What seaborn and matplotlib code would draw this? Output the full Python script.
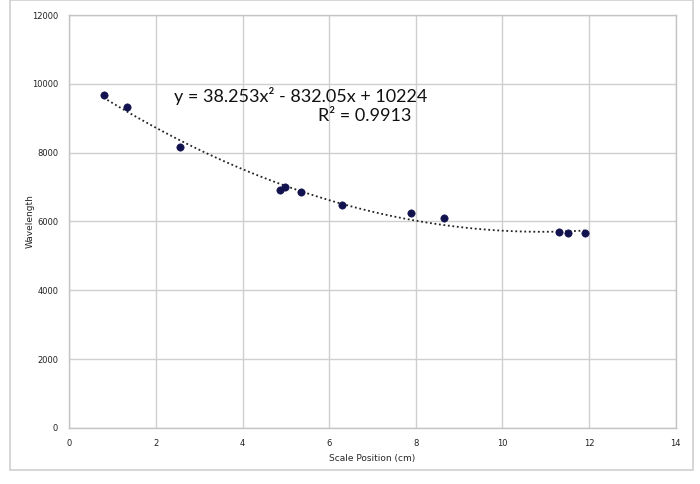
import numpy as np
import pandas as pd
import seaborn as sns
import matplotlib.pyplot as plt
from matplotlib.patches import Rectangle

# values
scale_position = [0.79, 1.33, 2.56, 4.87, 4.98, 5.34, 6.30, 7.89, 8.65, 11.31, 11.52, 11.90]
wavelength = [9680, 9320, 8170, 6920, 7000, 6850, 6470, 6240, 6110, 5680, 5660, 5670]
x_ticks = [0, 2, 4, 6, 8, 10, 12, 14]
y_ticks = [0, 2000, 4000, 6000, 8000, 10000, 12000]

df = pd.DataFrame({'Scale Position (cm)': scale_position, 'Wavelength': wavelength})

sns.set_style('whitegrid')
plt.rcParams['font.family'] = ['DejaVu Sans']

fig = plt.figure(figsize=(7, 4.84), dpi=100)
ax = fig.add_axes([0.099, 0.116, 0.866, 0.853])

# light frame around the chart like the spreadsheet export
fig.patches.append(Rectangle((10 / 700, 1 - 470 / 484), 683 / 700, 470 / 484,
                             transform=fig.transFigure, fill=False,
                             edgecolor='#d0d0d0', linewidth=1.2))

sns.regplot(data=df, x='Scale Position (cm)', y='Wavelength', order=2, ci=None,
            scatter=False, ax=ax,
            line_kws={'color': '#222222', 'linestyle': (0, (1, 1.5)), 'linewidth': 1.3})
sns.scatterplot(data=df, x='Scale Position (cm)', y='Wavelength', ax=ax,
                color='#12124f', s=28, edgecolor='#12124f', zorder=3)

ax.set_xlim(0, 14)
ax.set_ylim(0, 12000)
ax.set_xticks(x_ticks)
ax.set_yticks(y_ticks)
ax.grid(True, color='#cfcfcf', linewidth=1)
for s in ax.spines.values():
    s.set_color('#c4c4c4')
    s.set_linewidth(1)
ax.tick_params(axis='both', labelsize=6, length=0, pad=8, colors='#222222')
ax.set_xlabel('Scale Position (cm)', fontsize=6.5, labelpad=4)
ax.set_ylabel('Wavelength', fontsize=6.5, labelpad=-2)

ax.text(5.35, 9650, 'y = 38.253x² - 832.05x + 10224', fontsize=13, family='Lato',
        ha='center', va='center', color='#111111')
ax.text(6.83, 9070, 'R² = 0.9913', fontsize=13, family='Lato',
        ha='center', va='center', color='#111111')

fig.savefig('out.png', dpi=100)
